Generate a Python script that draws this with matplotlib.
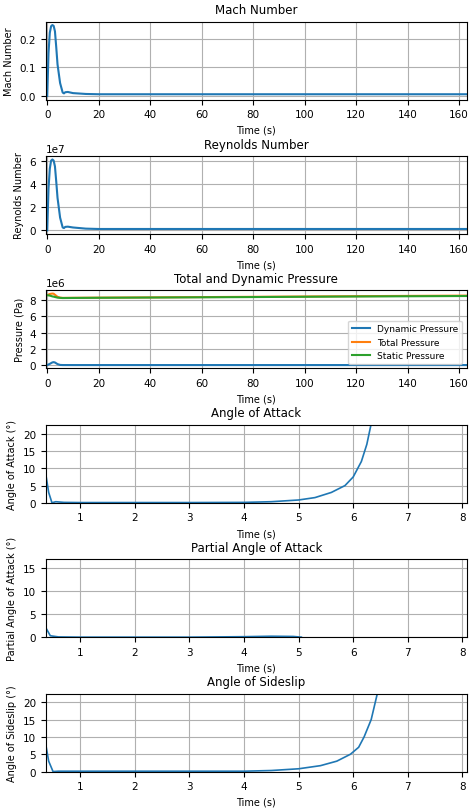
import matplotlib.pyplot as plt
from matplotlib.ticker import MultipleLocator

# flight data
t_long = [0, 0.5, 1, 1.5, 2, 2.5, 3, 3.5, 4, 5, 6, 6.5, 7, 8, 10, 15, 20, 40, 163]
mach = [0, 0.15, 0.22, 0.243, 0.247, 0.244, 0.225, 0.17, 0.11, 0.045, 0.012, 0.009,
        0.013, 0.014, 0.01, 0.007, 0.006, 0.006, 0.006]
reynolds = [0, 3.6e7, 5.3e7, 6.0e7, 6.1e7, 6.0e7, 5.5e7, 4.2e7, 2.8e7, 1.1e7, 0.25e7,
            0.2e7, 0.3e7, 0.32e7, 0.25e7, 0.15e7, 0.12e7, 0.12e7, 0.12e7]

t_press = [0, 1, 2, 2.5, 3, 4, 5, 6, 10, 20, 40, 80, 120, 163]
dyn_p = [0, 0.15e6, 0.33e6, 0.36e6, 0.32e6, 0.12e6, 0.02e6, 0.005e6, 0.003e6, 0.003e6,
         0.003e6, 0.003e6, 0.003e6, 0.003e6]
total_p = [8.6e6, 8.75e6, 8.8e6, 8.78e6, 8.65e6, 8.4e6, 8.3e6, 8.27e6, 8.28e6, 8.3e6,
           8.33e6, 8.4e6, 8.48e6, 8.55e6]
static_p = [8.6e6, 8.55e6, 8.45e6, 8.42e6, 8.38e6, 8.3e6, 8.27e6, 8.25e6, 8.26e6, 8.28e6,
            8.31e6, 8.37e6, 8.44e6, 8.5e6]

t_aoa = [0.37, 0.42, 0.48, 0.55, 0.7, 1, 2, 3, 4, 4.5, 5, 5.3, 5.6, 5.85, 6, 6.15, 6.25, 6.33]
aoa = [8, 3, 0, 0.3, 0.1, 0.05, 0.05, 0.05, 0.1, 0.3, 0.8, 1.5, 3, 5, 7.5, 12, 17, 23]
t_paoa = [0.37, 0.45, 0.6, 1, 2, 3, 4, 4.5, 4.9, 5.05]
paoa = [2, 0.3, 0.05, 0, 0, 0, 0.1, 0.2, 0.15, 0]
t_beta = [0.37, 0.42, 0.5, 0.6, 1, 2, 3, 4, 4.5, 5, 5.4, 5.7, 5.95, 6.1, 6.2, 6.33, 6.45]
beta = [7.5, 3, 0, 0.1, 0.1, 0.1, 0.1, 0.1, 0.3, 0.8, 1.7, 3, 5, 7, 10, 15, 23]

fig, axes = plt.subplots(6, 1, figsize=(4.74, 8.12), dpi=100)

ax = axes[0]
ax.plot(t_long, mach)
ax.set_title('Mach Number', fontsize=8.5)
ax.set_ylabel('Mach Number', fontsize=7)
ax.set_xlim(-0.5, 163)
ax.yaxis.set_major_locator(MultipleLocator(0.1))

ax = axes[1]
ax.plot(t_long, reynolds)
ax.set_title('Reynolds Number', fontsize=8.5)
ax.set_ylabel('Reynolds Number', fontsize=7)
ax.set_xlim(-0.5, 163)
ax.yaxis.set_major_locator(MultipleLocator(2e7))

ax = axes[2]
ax.plot(t_press, dyn_p, label='Dynamic Pressure')
ax.plot(t_press, total_p, label='Total Pressure')
ax.plot(t_press, static_p, label='Static Pressure')
ax.set_title('Total and Dynamic Pressure', fontsize=8.5)
ax.set_ylabel('Pressure (Pa)', fontsize=7)
ax.set_xlim(-0.5, 163)
ax.set_ylim(-0.4e6, 9.2e6)
ax.yaxis.set_major_locator(MultipleLocator(2e6))
ax.legend(fontsize=6.5, loc='lower right')

ax = axes[3]
ax.plot(t_aoa, aoa, lw=1.2)
ax.set_title('Angle of Attack', fontsize=8.5)
ax.set_ylabel('Angle of Attack (°)', fontsize=7)
ax.set_xlim(0.37, 8.08)
ax.set_ylim(0, 22.7)

ax = axes[4]
ax.plot(t_paoa, paoa, lw=1.2)
ax.set_title('Partial Angle of Attack', fontsize=8.5)
ax.set_ylabel('Partial Angle of Attack (°)', fontsize=7)
ax.set_xlim(0.37, 8.08)
ax.set_ylim(0, 17)

ax = axes[5]
ax.plot(t_beta, beta, lw=1.2)
ax.set_title('Angle of Sideslip', fontsize=8.5)
ax.set_ylabel('Angle of Sideslip (°)', fontsize=7)
ax.set_xlim(0.37, 8.08)
ax.set_ylim(0, 22.5)

for ax in axes[3:]:
    ax.yaxis.set_major_locator(MultipleLocator(5))

for ax in axes:
    ax.set_xlabel('Time (s)', fontsize=7)
    ax.tick_params(labelsize=7.5)
    ax.yaxis.get_offset_text().set_fontsize(7.5)
    ax.grid(True)

plt.tight_layout(pad=0.3, h_pad=0.2)
plt.savefig('out.png')
